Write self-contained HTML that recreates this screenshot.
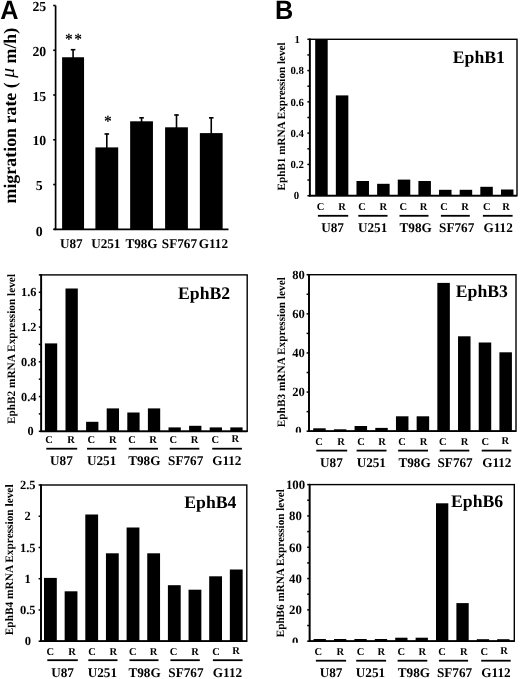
<!DOCTYPE html>
<html><head><meta charset="utf-8"><title>Figure</title>
<style>html,body{margin:0;padding:0;background:#fff;}svg{display:block;}text{text-rendering:geometricPrecision;}</style>
</head><body>
<svg width="520" height="679" viewBox="0 0 520 679">
<rect width="520" height="679" fill="#fff"/>
<line x1="55.60" y1="5.50" x2="55.60" y2="230.10" stroke="#000" stroke-width="1.7"/>
<line x1="53.80" y1="229.30" x2="228.50" y2="229.30" stroke="#000" stroke-width="1.7"/>
<line x1="53.20" y1="229.30" x2="55.60" y2="229.30" stroke="#000" stroke-width="1.6"/>
<text x="39.30" y="235.50" font-family="'Liberation Serif', 'Times New Roman', serif" font-weight="bold" font-size="13.8" text-anchor="middle">0</text>
<line x1="53.20" y1="184.54" x2="55.60" y2="184.54" stroke="#000" stroke-width="1.6"/>
<text x="39.30" y="190.04" font-family="'Liberation Serif', 'Times New Roman', serif" font-weight="bold" font-size="13.8" text-anchor="middle">5</text>
<line x1="53.20" y1="139.78" x2="55.60" y2="139.78" stroke="#000" stroke-width="1.6"/>
<text x="39.30" y="145.28" font-family="'Liberation Serif', 'Times New Roman', serif" font-weight="bold" font-size="13.8" text-anchor="middle">10</text>
<line x1="53.20" y1="95.02" x2="55.60" y2="95.02" stroke="#000" stroke-width="1.6"/>
<text x="39.30" y="100.52" font-family="'Liberation Serif', 'Times New Roman', serif" font-weight="bold" font-size="13.8" text-anchor="middle">15</text>
<line x1="53.20" y1="50.26" x2="55.60" y2="50.26" stroke="#000" stroke-width="1.6"/>
<text x="39.30" y="55.76" font-family="'Liberation Serif', 'Times New Roman', serif" font-weight="bold" font-size="13.8" text-anchor="middle">20</text>
<line x1="53.20" y1="5.50" x2="55.60" y2="5.50" stroke="#000" stroke-width="1.6"/>
<text x="39.30" y="11.00" font-family="'Liberation Serif', 'Times New Roman', serif" font-weight="bold" font-size="13.8" text-anchor="middle">25</text>
<rect x="62.10" y="57.25" width="21.95" height="172.05" fill="#000"/>
<line x1="73.08" y1="49.10" x2="73.08" y2="58.25" stroke="#000" stroke-width="1.6"/>
<line x1="70.78" y1="49.70" x2="75.38" y2="49.70" stroke="#000" stroke-width="1.6"/>
<text x="71.30" y="247.60" font-family="'Liberation Serif', 'Times New Roman', serif" font-weight="bold" font-size="13.2" text-anchor="middle">U87</text>
<rect x="95.40" y="147.40" width="22.80" height="81.90" fill="#000"/>
<line x1="106.80" y1="133.40" x2="106.80" y2="148.40" stroke="#000" stroke-width="1.6"/>
<line x1="104.50" y1="134.00" x2="109.10" y2="134.00" stroke="#000" stroke-width="1.6"/>
<text x="105.80" y="247.60" font-family="'Liberation Serif', 'Times New Roman', serif" font-weight="bold" font-size="13.2" text-anchor="middle">U251</text>
<rect x="130.15" y="121.30" width="22.80" height="108.00" fill="#000"/>
<line x1="141.55" y1="117.20" x2="141.55" y2="122.30" stroke="#000" stroke-width="1.6"/>
<line x1="139.25" y1="117.80" x2="143.85" y2="117.80" stroke="#000" stroke-width="1.6"/>
<text x="141.50" y="247.60" font-family="'Liberation Serif', 'Times New Roman', serif" font-weight="bold" font-size="13.2" text-anchor="middle">T98G</text>
<rect x="165.10" y="127.30" width="22.80" height="102.00" fill="#000"/>
<line x1="176.50" y1="114.40" x2="176.50" y2="128.30" stroke="#000" stroke-width="1.6"/>
<line x1="174.20" y1="115.00" x2="178.80" y2="115.00" stroke="#000" stroke-width="1.6"/>
<text x="179.40" y="247.60" font-family="'Liberation Serif', 'Times New Roman', serif" font-weight="bold" font-size="13.2" text-anchor="middle">SF767</text>
<rect x="199.85" y="133.10" width="22.80" height="96.20" fill="#000"/>
<line x1="211.25" y1="117.20" x2="211.25" y2="134.10" stroke="#000" stroke-width="1.6"/>
<line x1="208.95" y1="117.80" x2="213.55" y2="117.80" stroke="#000" stroke-width="1.6"/>
<text x="213.40" y="247.60" font-family="'Liberation Serif', 'Times New Roman', serif" font-weight="bold" font-size="13.2" text-anchor="middle">G112</text>
<text x="74.30" y="43.80" font-family="'Liberation Serif', 'Times New Roman', serif" font-weight="bold" font-size="15.5" text-anchor="middle" letter-spacing="1.5">**</text>
<text x="107.80" y="126.40" font-family="'Liberation Serif', 'Times New Roman', serif" font-weight="bold" font-size="15.5" text-anchor="middle">*</text>
<text transform="translate(16.3,203.5) rotate(-90)" font-family="'Liberation Serif', 'Times New Roman', serif" font-weight="bold" font-size="17.9" text-anchor="start">migration rate ( <tspan font-style="italic" font-weight="normal" font-size="19.5" dy="-2.2">μ</tspan><tspan dy="2.2"> m/h)</tspan></text>
<text x="0.30" y="18.90" font-family="'Liberation Sans', Arial, sans-serif" font-weight="bold" font-size="25.3" text-anchor="start" transform="translate(0,-0.95) scale(1,1.05)">A</text>
<text x="275.00" y="19.40" font-family="'Liberation Sans', Arial, sans-serif" font-weight="bold" font-size="25.3" text-anchor="start" transform="translate(0,-0.97) scale(1,1.05)">B</text>
<rect x="315.20" y="39.30" width="12.50" height="156.40" fill="#000"/>
<rect x="335.84" y="95.40" width="12.50" height="100.30" fill="#000"/>
<rect x="356.48" y="181.00" width="12.50" height="14.70" fill="#000"/>
<rect x="377.12" y="183.80" width="12.50" height="11.90" fill="#000"/>
<rect x="397.76" y="179.60" width="12.50" height="16.10" fill="#000"/>
<rect x="418.40" y="181.00" width="12.50" height="14.70" fill="#000"/>
<rect x="439.04" y="189.80" width="12.50" height="5.90" fill="#000"/>
<rect x="459.68" y="189.80" width="12.50" height="5.90" fill="#000"/>
<rect x="480.32" y="186.80" width="12.50" height="8.90" fill="#000"/>
<rect x="500.96" y="189.50" width="12.50" height="6.20" fill="#000"/>
<rect x="309.80" y="39.30" width="207.20" height="156.40" fill="none" stroke="#000" stroke-width="1.4"/>
<line x1="309.80" y1="38.60" x2="309.80" y2="196.40" stroke="#000" stroke-width="1.8"/>
<line x1="308.90" y1="195.70" x2="517.00" y2="195.70" stroke="#000" stroke-width="1.7"/>
<line x1="307.40" y1="195.70" x2="309.80" y2="195.70" stroke="#000" stroke-width="1.5"/>
<text x="296.40" y="199.37" font-family="'Liberation Serif', 'Times New Roman', serif" font-weight="bold" font-size="10.8" text-anchor="middle">0</text>
<line x1="307.40" y1="164.42" x2="309.80" y2="164.42" stroke="#000" stroke-width="1.5"/>
<text x="297.20" y="168.09" font-family="'Liberation Serif', 'Times New Roman', serif" font-weight="bold" font-size="10.8" text-anchor="middle">0.2</text>
<line x1="307.40" y1="133.14" x2="309.80" y2="133.14" stroke="#000" stroke-width="1.5"/>
<text x="297.20" y="136.81" font-family="'Liberation Serif', 'Times New Roman', serif" font-weight="bold" font-size="10.8" text-anchor="middle">0.4</text>
<line x1="307.40" y1="101.86" x2="309.80" y2="101.86" stroke="#000" stroke-width="1.5"/>
<text x="297.20" y="105.53" font-family="'Liberation Serif', 'Times New Roman', serif" font-weight="bold" font-size="10.8" text-anchor="middle">0.6</text>
<line x1="307.40" y1="70.58" x2="309.80" y2="70.58" stroke="#000" stroke-width="1.5"/>
<text x="297.20" y="74.25" font-family="'Liberation Serif', 'Times New Roman', serif" font-weight="bold" font-size="10.8" text-anchor="middle">0.8</text>
<line x1="307.40" y1="39.30" x2="309.80" y2="39.30" stroke="#000" stroke-width="1.5"/>
<text x="297.20" y="42.97" font-family="'Liberation Serif', 'Times New Roman', serif" font-weight="bold" font-size="10.8" text-anchor="middle">1</text>
<line x1="307.40" y1="180.06" x2="309.80" y2="180.06" stroke="#000" stroke-width="1.5"/>
<line x1="307.40" y1="148.78" x2="309.80" y2="148.78" stroke="#000" stroke-width="1.5"/>
<line x1="307.40" y1="117.50" x2="309.80" y2="117.50" stroke="#000" stroke-width="1.5"/>
<line x1="307.40" y1="86.22" x2="309.80" y2="86.22" stroke="#000" stroke-width="1.5"/>
<line x1="307.40" y1="54.94" x2="309.80" y2="54.94" stroke="#000" stroke-width="1.5"/>
<text x="320.60" y="210.40" font-family="'Liberation Serif', 'Times New Roman', serif" font-weight="bold" font-size="10.5" text-anchor="middle">C</text>
<text x="342.10" y="210.40" font-family="'Liberation Serif', 'Times New Roman', serif" font-weight="bold" font-size="10.5" text-anchor="middle">R</text>
<line x1="317.90" y1="215.80" x2="348.20" y2="215.80" stroke="#000" stroke-width="1.8"/>
<text x="332.50" y="232.20" font-family="'Liberation Serif', 'Times New Roman', serif" font-weight="bold" font-size="13.2" text-anchor="middle">U87</text>
<text x="362.00" y="210.40" font-family="'Liberation Serif', 'Times New Roman', serif" font-weight="bold" font-size="10.5" text-anchor="middle">C</text>
<text x="383.40" y="210.40" font-family="'Liberation Serif', 'Times New Roman', serif" font-weight="bold" font-size="10.5" text-anchor="middle">R</text>
<line x1="358.30" y1="215.80" x2="387.50" y2="215.80" stroke="#000" stroke-width="1.8"/>
<text x="372.60" y="232.20" font-family="'Liberation Serif', 'Times New Roman', serif" font-weight="bold" font-size="13.2" text-anchor="middle">U251</text>
<text x="403.30" y="210.40" font-family="'Liberation Serif', 'Times New Roman', serif" font-weight="bold" font-size="10.5" text-anchor="middle">C</text>
<text x="423.50" y="210.40" font-family="'Liberation Serif', 'Times New Roman', serif" font-weight="bold" font-size="10.5" text-anchor="middle">R</text>
<line x1="399.50" y1="215.80" x2="428.50" y2="215.80" stroke="#000" stroke-width="1.8"/>
<text x="415.70" y="232.20" font-family="'Liberation Serif', 'Times New Roman', serif" font-weight="bold" font-size="13.2" text-anchor="middle">T98G</text>
<text x="444.10" y="210.40" font-family="'Liberation Serif', 'Times New Roman', serif" font-weight="bold" font-size="10.5" text-anchor="middle">C</text>
<text x="465.00" y="210.40" font-family="'Liberation Serif', 'Times New Roman', serif" font-weight="bold" font-size="10.5" text-anchor="middle">R</text>
<line x1="440.90" y1="215.80" x2="469.80" y2="215.80" stroke="#000" stroke-width="1.8"/>
<text x="456.70" y="232.20" font-family="'Liberation Serif', 'Times New Roman', serif" font-weight="bold" font-size="13.2" text-anchor="middle">SF767</text>
<text x="486.70" y="210.40" font-family="'Liberation Serif', 'Times New Roman', serif" font-weight="bold" font-size="10.5" text-anchor="middle">C</text>
<text x="506.00" y="209.50" font-family="'Liberation Serif', 'Times New Roman', serif" font-weight="bold" font-size="10.5" text-anchor="middle">R</text>
<line x1="482.90" y1="215.80" x2="512.60" y2="215.80" stroke="#000" stroke-width="1.8"/>
<text x="498.10" y="232.20" font-family="'Liberation Serif', 'Times New Roman', serif" font-weight="bold" font-size="13.2" text-anchor="middle">G112</text>
<text x="452.80" y="62.90" font-family="'Liberation Serif', 'Times New Roman', serif" font-weight="bold" font-size="17.7" text-anchor="start">EphB1</text>
<text transform="translate(285.40,190.40) rotate(-90)" font-family="'Liberation Serif', 'Times New Roman', serif" font-weight="bold" font-size="11.15" text-anchor="start">EphB1 mRNA Expression level</text>
<rect x="44.90" y="343.40" width="12.30" height="87.90" fill="#000"/>
<rect x="65.50" y="288.50" width="12.30" height="142.80" fill="#000"/>
<rect x="86.10" y="421.80" width="12.30" height="9.50" fill="#000"/>
<rect x="106.70" y="408.40" width="12.30" height="22.90" fill="#000"/>
<rect x="127.30" y="412.50" width="12.30" height="18.80" fill="#000"/>
<rect x="147.90" y="408.40" width="12.30" height="22.90" fill="#000"/>
<rect x="168.50" y="427.40" width="12.30" height="3.90" fill="#000"/>
<rect x="189.10" y="425.80" width="12.30" height="5.50" fill="#000"/>
<rect x="209.70" y="427.40" width="12.30" height="3.90" fill="#000"/>
<rect x="230.30" y="427.40" width="12.30" height="3.90" fill="#000"/>
<rect x="41.20" y="274.90" width="206.00" height="156.40" fill="none" stroke="#000" stroke-width="1.4"/>
<line x1="41.20" y1="274.20" x2="41.20" y2="432.00" stroke="#000" stroke-width="1.8"/>
<line x1="40.30" y1="431.30" x2="247.20" y2="431.30" stroke="#000" stroke-width="1.7"/>
<line x1="38.80" y1="431.30" x2="41.20" y2="431.30" stroke="#000" stroke-width="1.5"/>
<text x="30.60" y="435.48" font-family="'Liberation Serif', 'Times New Roman', serif" font-weight="bold" font-size="12.3" text-anchor="middle">0</text>
<line x1="38.80" y1="396.54" x2="41.20" y2="396.54" stroke="#000" stroke-width="1.5"/>
<text x="28.70" y="400.73" font-family="'Liberation Serif', 'Times New Roman', serif" font-weight="bold" font-size="12.3" text-anchor="middle">0.4</text>
<line x1="38.80" y1="361.79" x2="41.20" y2="361.79" stroke="#000" stroke-width="1.5"/>
<text x="28.70" y="365.97" font-family="'Liberation Serif', 'Times New Roman', serif" font-weight="bold" font-size="12.3" text-anchor="middle">0.8</text>
<line x1="38.80" y1="327.03" x2="41.20" y2="327.03" stroke="#000" stroke-width="1.5"/>
<text x="28.70" y="331.22" font-family="'Liberation Serif', 'Times New Roman', serif" font-weight="bold" font-size="12.3" text-anchor="middle">1.2</text>
<line x1="38.80" y1="292.28" x2="41.20" y2="292.28" stroke="#000" stroke-width="1.5"/>
<text x="28.70" y="296.46" font-family="'Liberation Serif', 'Times New Roman', serif" font-weight="bold" font-size="12.3" text-anchor="middle">1.6</text>
<line x1="38.80" y1="413.92" x2="41.20" y2="413.92" stroke="#000" stroke-width="1.5"/>
<line x1="38.80" y1="379.17" x2="41.20" y2="379.17" stroke="#000" stroke-width="1.5"/>
<line x1="38.80" y1="344.41" x2="41.20" y2="344.41" stroke="#000" stroke-width="1.5"/>
<line x1="38.80" y1="309.66" x2="41.20" y2="309.66" stroke="#000" stroke-width="1.5"/>
<line x1="38.80" y1="274.90" x2="41.20" y2="274.90" stroke="#000" stroke-width="1.5"/>
<text x="49.10" y="443.30" font-family="'Liberation Serif', 'Times New Roman', serif" font-weight="bold" font-size="10.5" text-anchor="middle">C</text>
<text x="71.00" y="443.30" font-family="'Liberation Serif', 'Times New Roman', serif" font-weight="bold" font-size="10.5" text-anchor="middle">R</text>
<line x1="46.30" y1="448.70" x2="77.20" y2="448.70" stroke="#000" stroke-width="1.8"/>
<text x="61.40" y="465.30" font-family="'Liberation Serif', 'Times New Roman', serif" font-weight="bold" font-size="13.2" text-anchor="middle">U87</text>
<text x="91.40" y="443.30" font-family="'Liberation Serif', 'Times New Roman', serif" font-weight="bold" font-size="10.5" text-anchor="middle">C</text>
<text x="112.70" y="443.30" font-family="'Liberation Serif', 'Times New Roman', serif" font-weight="bold" font-size="10.5" text-anchor="middle">R</text>
<line x1="87.00" y1="448.70" x2="116.50" y2="448.70" stroke="#000" stroke-width="1.8"/>
<text x="101.60" y="465.30" font-family="'Liberation Serif', 'Times New Roman', serif" font-weight="bold" font-size="13.2" text-anchor="middle">U251</text>
<text x="132.10" y="443.30" font-family="'Liberation Serif', 'Times New Roman', serif" font-weight="bold" font-size="10.5" text-anchor="middle">C</text>
<text x="153.00" y="443.30" font-family="'Liberation Serif', 'Times New Roman', serif" font-weight="bold" font-size="10.5" text-anchor="middle">R</text>
<line x1="128.80" y1="448.70" x2="158.00" y2="448.70" stroke="#000" stroke-width="1.8"/>
<text x="144.30" y="465.30" font-family="'Liberation Serif', 'Times New Roman', serif" font-weight="bold" font-size="13.2" text-anchor="middle">T98G</text>
<text x="173.30" y="443.30" font-family="'Liberation Serif', 'Times New Roman', serif" font-weight="bold" font-size="10.5" text-anchor="middle">C</text>
<text x="194.50" y="443.30" font-family="'Liberation Serif', 'Times New Roman', serif" font-weight="bold" font-size="10.5" text-anchor="middle">R</text>
<line x1="169.70" y1="448.70" x2="199.30" y2="448.70" stroke="#000" stroke-width="1.8"/>
<text x="185.70" y="465.30" font-family="'Liberation Serif', 'Times New Roman', serif" font-weight="bold" font-size="13.2" text-anchor="middle">SF767</text>
<text x="215.40" y="443.30" font-family="'Liberation Serif', 'Times New Roman', serif" font-weight="bold" font-size="10.5" text-anchor="middle">C</text>
<text x="235.40" y="442.40" font-family="'Liberation Serif', 'Times New Roman', serif" font-weight="bold" font-size="10.5" text-anchor="middle">R</text>
<line x1="212.20" y1="448.70" x2="241.90" y2="448.70" stroke="#000" stroke-width="1.8"/>
<text x="226.80" y="465.30" font-family="'Liberation Serif', 'Times New Roman', serif" font-weight="bold" font-size="13.2" text-anchor="middle">G112</text>
<text x="178.00" y="298.50" font-family="'Liberation Serif', 'Times New Roman', serif" font-weight="bold" font-size="17.7" text-anchor="start">EphB2</text>
<text transform="translate(15.40,424.10) rotate(-90)" font-family="'Liberation Serif', 'Times New Roman', serif" font-weight="bold" font-size="11.3" text-anchor="start">EphB2 mRNA Expression level</text>
<rect x="313.20" y="428.30" width="12.50" height="2.90" fill="#000"/>
<rect x="333.89" y="429.30" width="12.50" height="1.90" fill="#000"/>
<rect x="354.58" y="426.00" width="12.50" height="5.20" fill="#000"/>
<rect x="375.27" y="427.90" width="12.50" height="3.30" fill="#000"/>
<rect x="395.96" y="416.30" width="12.50" height="14.90" fill="#000"/>
<rect x="416.65" y="416.30" width="12.50" height="14.90" fill="#000"/>
<rect x="437.34" y="282.90" width="12.50" height="148.30" fill="#000"/>
<rect x="458.03" y="336.30" width="12.50" height="94.90" fill="#000"/>
<rect x="478.72" y="342.50" width="12.50" height="88.70" fill="#000"/>
<rect x="499.41" y="352.30" width="12.50" height="78.90" fill="#000"/>
<rect x="309.00" y="274.70" width="207.00" height="156.50" fill="none" stroke="#000" stroke-width="1.4"/>
<line x1="309.00" y1="274.00" x2="309.00" y2="431.90" stroke="#000" stroke-width="1.8"/>
<line x1="308.10" y1="431.20" x2="516.00" y2="431.20" stroke="#000" stroke-width="1.7"/>
<line x1="306.60" y1="431.20" x2="309.00" y2="431.20" stroke="#000" stroke-width="1.5"/>
<clipPath id="zc1"><rect x="288.4" y="416.2" width="20" height="16.4"/></clipPath>
<text x="298.40" y="435.48" font-family="'Liberation Serif', 'Times New Roman', serif" font-weight="bold" font-size="12.6" text-anchor="middle" clip-path="url(#zc1)">0</text>
<line x1="306.60" y1="392.07" x2="309.00" y2="392.07" stroke="#000" stroke-width="1.5"/>
<text x="298.60" y="396.36" font-family="'Liberation Serif', 'Times New Roman', serif" font-weight="bold" font-size="12.6" text-anchor="middle">20</text>
<line x1="306.60" y1="352.95" x2="309.00" y2="352.95" stroke="#000" stroke-width="1.5"/>
<text x="298.60" y="357.23" font-family="'Liberation Serif', 'Times New Roman', serif" font-weight="bold" font-size="12.6" text-anchor="middle">40</text>
<line x1="306.60" y1="313.82" x2="309.00" y2="313.82" stroke="#000" stroke-width="1.5"/>
<text x="298.60" y="318.11" font-family="'Liberation Serif', 'Times New Roman', serif" font-weight="bold" font-size="12.6" text-anchor="middle">60</text>
<line x1="306.60" y1="274.70" x2="309.00" y2="274.70" stroke="#000" stroke-width="1.5"/>
<text x="298.60" y="278.98" font-family="'Liberation Serif', 'Times New Roman', serif" font-weight="bold" font-size="12.6" text-anchor="middle">80</text>
<line x1="306.60" y1="411.64" x2="309.00" y2="411.64" stroke="#000" stroke-width="1.5"/>
<line x1="306.60" y1="372.51" x2="309.00" y2="372.51" stroke="#000" stroke-width="1.5"/>
<line x1="306.60" y1="333.39" x2="309.00" y2="333.39" stroke="#000" stroke-width="1.5"/>
<line x1="306.60" y1="294.26" x2="309.00" y2="294.26" stroke="#000" stroke-width="1.5"/>
<text x="319.10" y="445.10" font-family="'Liberation Serif', 'Times New Roman', serif" font-weight="bold" font-size="10.5" text-anchor="middle">C</text>
<text x="341.00" y="445.10" font-family="'Liberation Serif', 'Times New Roman', serif" font-weight="bold" font-size="10.5" text-anchor="middle">R</text>
<line x1="316.30" y1="450.60" x2="347.20" y2="450.60" stroke="#000" stroke-width="1.8"/>
<text x="331.40" y="467.30" font-family="'Liberation Serif', 'Times New Roman', serif" font-weight="bold" font-size="13.2" text-anchor="middle">U87</text>
<text x="361.00" y="445.10" font-family="'Liberation Serif', 'Times New Roman', serif" font-weight="bold" font-size="10.5" text-anchor="middle">C</text>
<text x="382.00" y="445.10" font-family="'Liberation Serif', 'Times New Roman', serif" font-weight="bold" font-size="10.5" text-anchor="middle">R</text>
<line x1="356.60" y1="450.60" x2="386.50" y2="450.60" stroke="#000" stroke-width="1.8"/>
<text x="371.30" y="467.30" font-family="'Liberation Serif', 'Times New Roman', serif" font-weight="bold" font-size="13.2" text-anchor="middle">U251</text>
<text x="402.00" y="445.10" font-family="'Liberation Serif', 'Times New Roman', serif" font-weight="bold" font-size="10.5" text-anchor="middle">C</text>
<text x="423.50" y="445.10" font-family="'Liberation Serif', 'Times New Roman', serif" font-weight="bold" font-size="10.5" text-anchor="middle">R</text>
<line x1="398.10" y1="450.60" x2="428.00" y2="450.60" stroke="#000" stroke-width="1.8"/>
<text x="414.60" y="467.30" font-family="'Liberation Serif', 'Times New Roman', serif" font-weight="bold" font-size="13.2" text-anchor="middle">T98G</text>
<text x="442.90" y="445.10" font-family="'Liberation Serif', 'Times New Roman', serif" font-weight="bold" font-size="10.5" text-anchor="middle">C</text>
<text x="464.50" y="445.10" font-family="'Liberation Serif', 'Times New Roman', serif" font-weight="bold" font-size="10.5" text-anchor="middle">R</text>
<line x1="439.70" y1="450.60" x2="469.30" y2="450.60" stroke="#000" stroke-width="1.8"/>
<text x="455.10" y="467.30" font-family="'Liberation Serif', 'Times New Roman', serif" font-weight="bold" font-size="13.2" text-anchor="middle">SF767</text>
<text x="485.40" y="445.10" font-family="'Liberation Serif', 'Times New Roman', serif" font-weight="bold" font-size="10.5" text-anchor="middle">C</text>
<text x="505.30" y="444.20" font-family="'Liberation Serif', 'Times New Roman', serif" font-weight="bold" font-size="10.5" text-anchor="middle">R</text>
<line x1="481.70" y1="450.60" x2="511.40" y2="450.60" stroke="#000" stroke-width="1.8"/>
<text x="496.80" y="467.30" font-family="'Liberation Serif', 'Times New Roman', serif" font-weight="bold" font-size="13.2" text-anchor="middle">G112</text>
<text x="455.80" y="296.60" font-family="'Liberation Serif', 'Times New Roman', serif" font-weight="bold" font-size="17.7" text-anchor="start">EphB3</text>
<text transform="translate(285.40,427.20) rotate(-90)" font-family="'Liberation Serif', 'Times New Roman', serif" font-weight="bold" font-size="11.3" text-anchor="start">EphB3 mRNA Expression level</text>
<rect x="44.00" y="577.90" width="12.80" height="63.30" fill="#000"/>
<rect x="64.65" y="591.30" width="12.80" height="49.90" fill="#000"/>
<rect x="85.30" y="514.50" width="12.80" height="126.70" fill="#000"/>
<rect x="105.95" y="553.30" width="12.80" height="87.90" fill="#000"/>
<rect x="126.60" y="527.50" width="12.80" height="113.70" fill="#000"/>
<rect x="147.25" y="553.30" width="12.80" height="87.90" fill="#000"/>
<rect x="167.90" y="585.20" width="12.80" height="56.00" fill="#000"/>
<rect x="188.55" y="589.70" width="12.80" height="51.50" fill="#000"/>
<rect x="209.20" y="576.30" width="12.80" height="64.90" fill="#000"/>
<rect x="229.85" y="569.50" width="12.80" height="71.70" fill="#000"/>
<rect x="41.00" y="485.00" width="205.80" height="156.20" fill="none" stroke="#000" stroke-width="1.4"/>
<line x1="41.00" y1="484.30" x2="41.00" y2="641.90" stroke="#000" stroke-width="1.8"/>
<line x1="40.10" y1="641.20" x2="246.80" y2="641.20" stroke="#000" stroke-width="1.7"/>
<line x1="38.60" y1="641.20" x2="41.00" y2="641.20" stroke="#000" stroke-width="1.5"/>
<text x="27.90" y="645.45" font-family="'Liberation Serif', 'Times New Roman', serif" font-weight="bold" font-size="12.5" text-anchor="middle">0</text>
<line x1="38.60" y1="609.96" x2="41.00" y2="609.96" stroke="#000" stroke-width="1.5"/>
<text x="27.70" y="614.21" font-family="'Liberation Serif', 'Times New Roman', serif" font-weight="bold" font-size="12.5" text-anchor="middle">0.5</text>
<line x1="38.60" y1="578.72" x2="41.00" y2="578.72" stroke="#000" stroke-width="1.5"/>
<text x="27.70" y="582.97" font-family="'Liberation Serif', 'Times New Roman', serif" font-weight="bold" font-size="12.5" text-anchor="middle">1</text>
<line x1="38.60" y1="547.48" x2="41.00" y2="547.48" stroke="#000" stroke-width="1.5"/>
<text x="27.70" y="551.73" font-family="'Liberation Serif', 'Times New Roman', serif" font-weight="bold" font-size="12.5" text-anchor="middle">1.5</text>
<line x1="38.60" y1="516.24" x2="41.00" y2="516.24" stroke="#000" stroke-width="1.5"/>
<text x="27.70" y="520.49" font-family="'Liberation Serif', 'Times New Roman', serif" font-weight="bold" font-size="12.5" text-anchor="middle">2</text>
<line x1="38.60" y1="485.00" x2="41.00" y2="485.00" stroke="#000" stroke-width="1.5"/>
<text x="27.70" y="489.25" font-family="'Liberation Serif', 'Times New Roman', serif" font-weight="bold" font-size="12.5" text-anchor="middle">2.5</text>
<text x="50.20" y="654.70" font-family="'Liberation Serif', 'Times New Roman', serif" font-weight="bold" font-size="10.5" text-anchor="middle">C</text>
<text x="72.10" y="654.70" font-family="'Liberation Serif', 'Times New Roman', serif" font-weight="bold" font-size="10.5" text-anchor="middle">R</text>
<line x1="47.30" y1="660.20" x2="77.80" y2="660.20" stroke="#000" stroke-width="1.8"/>
<text x="62.50" y="677.20" font-family="'Liberation Serif', 'Times New Roman', serif" font-weight="bold" font-size="13.2" text-anchor="middle">U87</text>
<text x="92.00" y="654.70" font-family="'Liberation Serif', 'Times New Roman', serif" font-weight="bold" font-size="10.5" text-anchor="middle">C</text>
<text x="113.40" y="654.70" font-family="'Liberation Serif', 'Times New Roman', serif" font-weight="bold" font-size="10.5" text-anchor="middle">R</text>
<line x1="88.30" y1="660.20" x2="117.50" y2="660.20" stroke="#000" stroke-width="1.8"/>
<text x="102.40" y="677.20" font-family="'Liberation Serif', 'Times New Roman', serif" font-weight="bold" font-size="13.2" text-anchor="middle">U251</text>
<text x="132.90" y="654.70" font-family="'Liberation Serif', 'Times New Roman', serif" font-weight="bold" font-size="10.5" text-anchor="middle">C</text>
<text x="153.50" y="654.70" font-family="'Liberation Serif', 'Times New Roman', serif" font-weight="bold" font-size="10.5" text-anchor="middle">R</text>
<line x1="129.50" y1="660.20" x2="158.50" y2="660.20" stroke="#000" stroke-width="1.8"/>
<text x="144.60" y="677.20" font-family="'Liberation Serif', 'Times New Roman', serif" font-weight="bold" font-size="13.2" text-anchor="middle">T98G</text>
<text x="173.50" y="654.70" font-family="'Liberation Serif', 'Times New Roman', serif" font-weight="bold" font-size="10.5" text-anchor="middle">C</text>
<text x="195.00" y="654.70" font-family="'Liberation Serif', 'Times New Roman', serif" font-weight="bold" font-size="10.5" text-anchor="middle">R</text>
<line x1="170.40" y1="660.20" x2="199.80" y2="660.20" stroke="#000" stroke-width="1.8"/>
<text x="185.90" y="677.20" font-family="'Liberation Serif', 'Times New Roman', serif" font-weight="bold" font-size="13.2" text-anchor="middle">SF767</text>
<text x="216.10" y="654.70" font-family="'Liberation Serif', 'Times New Roman', serif" font-weight="bold" font-size="10.5" text-anchor="middle">C</text>
<text x="236.00" y="653.80" font-family="'Liberation Serif', 'Times New Roman', serif" font-weight="bold" font-size="10.5" text-anchor="middle">R</text>
<line x1="212.90" y1="660.20" x2="242.60" y2="660.20" stroke="#000" stroke-width="1.8"/>
<text x="227.50" y="677.20" font-family="'Liberation Serif', 'Times New Roman', serif" font-weight="bold" font-size="13.2" text-anchor="middle">G112</text>
<text x="184.30" y="507.60" font-family="'Liberation Serif', 'Times New Roman', serif" font-weight="bold" font-size="17.7" text-anchor="start">EphB4</text>
<text transform="translate(13.40,635.20) rotate(-90)" font-family="'Liberation Serif', 'Times New Roman', serif" font-weight="bold" font-size="11.35" text-anchor="start">EphB4 mRNA Expression level</text>
<rect x="313.60" y="639.00" width="12.30" height="2.20" fill="#000"/>
<rect x="334.00" y="639.00" width="12.30" height="2.20" fill="#000"/>
<rect x="354.40" y="639.00" width="12.30" height="2.20" fill="#000"/>
<rect x="374.80" y="639.00" width="12.30" height="2.20" fill="#000"/>
<rect x="395.20" y="637.70" width="12.30" height="3.50" fill="#000"/>
<rect x="415.60" y="637.70" width="12.30" height="3.50" fill="#000"/>
<rect x="436.00" y="503.30" width="12.30" height="137.90" fill="#000"/>
<rect x="456.40" y="603.10" width="12.30" height="38.10" fill="#000"/>
<rect x="476.80" y="639.20" width="12.30" height="2.00" fill="#000"/>
<rect x="497.20" y="639.20" width="12.30" height="2.00" fill="#000"/>
<rect x="309.60" y="484.60" width="204.70" height="156.60" fill="none" stroke="#000" stroke-width="1.4"/>
<line x1="309.60" y1="483.90" x2="309.60" y2="641.90" stroke="#000" stroke-width="1.8"/>
<line x1="308.70" y1="641.20" x2="514.30" y2="641.20" stroke="#000" stroke-width="1.7"/>
<line x1="307.20" y1="641.20" x2="309.60" y2="641.20" stroke="#000" stroke-width="1.5"/>
<clipPath id="zc2"><rect x="285.3" y="626.2" width="20" height="16.6"/></clipPath>
<text x="295.30" y="645.55" font-family="'Liberation Serif', 'Times New Roman', serif" font-weight="bold" font-size="12.8" text-anchor="middle" clip-path="url(#zc2)">0</text>
<line x1="307.20" y1="609.88" x2="309.60" y2="609.88" stroke="#000" stroke-width="1.5"/>
<text x="295.50" y="614.23" font-family="'Liberation Serif', 'Times New Roman', serif" font-weight="bold" font-size="12.8" text-anchor="middle">20</text>
<line x1="307.20" y1="578.56" x2="309.60" y2="578.56" stroke="#000" stroke-width="1.5"/>
<text x="295.50" y="582.91" font-family="'Liberation Serif', 'Times New Roman', serif" font-weight="bold" font-size="12.8" text-anchor="middle">40</text>
<line x1="307.20" y1="547.24" x2="309.60" y2="547.24" stroke="#000" stroke-width="1.5"/>
<text x="295.50" y="551.59" font-family="'Liberation Serif', 'Times New Roman', serif" font-weight="bold" font-size="12.8" text-anchor="middle">60</text>
<line x1="307.20" y1="515.92" x2="309.60" y2="515.92" stroke="#000" stroke-width="1.5"/>
<text x="295.50" y="520.27" font-family="'Liberation Serif', 'Times New Roman', serif" font-weight="bold" font-size="12.8" text-anchor="middle">80</text>
<line x1="307.20" y1="484.60" x2="309.60" y2="484.60" stroke="#000" stroke-width="1.5"/>
<text x="295.50" y="488.95" font-family="'Liberation Serif', 'Times New Roman', serif" font-weight="bold" font-size="12.8" text-anchor="middle">100</text>
<line x1="307.20" y1="625.54" x2="309.60" y2="625.54" stroke="#000" stroke-width="1.5"/>
<line x1="307.20" y1="594.22" x2="309.60" y2="594.22" stroke="#000" stroke-width="1.5"/>
<line x1="307.20" y1="562.90" x2="309.60" y2="562.90" stroke="#000" stroke-width="1.5"/>
<line x1="307.20" y1="531.58" x2="309.60" y2="531.58" stroke="#000" stroke-width="1.5"/>
<line x1="307.20" y1="500.26" x2="309.60" y2="500.26" stroke="#000" stroke-width="1.5"/>
<text x="318.40" y="655.00" font-family="'Liberation Serif', 'Times New Roman', serif" font-weight="bold" font-size="10.5" text-anchor="middle">C</text>
<text x="340.30" y="655.00" font-family="'Liberation Serif', 'Times New Roman', serif" font-weight="bold" font-size="10.5" text-anchor="middle">R</text>
<line x1="315.85" y1="660.70" x2="346.10" y2="660.70" stroke="#000" stroke-width="1.8"/>
<text x="331.00" y="677.30" font-family="'Liberation Serif', 'Times New Roman', serif" font-weight="bold" font-size="13.2" text-anchor="middle">U87</text>
<text x="360.50" y="655.00" font-family="'Liberation Serif', 'Times New Roman', serif" font-weight="bold" font-size="10.5" text-anchor="middle">C</text>
<text x="381.40" y="655.00" font-family="'Liberation Serif', 'Times New Roman', serif" font-weight="bold" font-size="10.5" text-anchor="middle">R</text>
<line x1="356.20" y1="660.70" x2="386.10" y2="660.70" stroke="#000" stroke-width="1.8"/>
<text x="370.50" y="677.30" font-family="'Liberation Serif', 'Times New Roman', serif" font-weight="bold" font-size="13.2" text-anchor="middle">U251</text>
<text x="401.20" y="655.00" font-family="'Liberation Serif', 'Times New Roman', serif" font-weight="bold" font-size="10.5" text-anchor="middle">C</text>
<text x="422.40" y="655.00" font-family="'Liberation Serif', 'Times New Roman', serif" font-weight="bold" font-size="10.5" text-anchor="middle">R</text>
<line x1="397.60" y1="660.70" x2="427.30" y2="660.70" stroke="#000" stroke-width="1.8"/>
<text x="413.90" y="677.30" font-family="'Liberation Serif', 'Times New Roman', serif" font-weight="bold" font-size="13.2" text-anchor="middle">T98G</text>
<text x="442.10" y="655.00" font-family="'Liberation Serif', 'Times New Roman', serif" font-weight="bold" font-size="10.5" text-anchor="middle">C</text>
<text x="463.80" y="655.00" font-family="'Liberation Serif', 'Times New Roman', serif" font-weight="bold" font-size="10.5" text-anchor="middle">R</text>
<line x1="438.95" y1="660.70" x2="468.10" y2="660.70" stroke="#000" stroke-width="1.8"/>
<text x="454.50" y="677.30" font-family="'Liberation Serif', 'Times New Roman', serif" font-weight="bold" font-size="13.2" text-anchor="middle">SF767</text>
<text x="484.40" y="655.00" font-family="'Liberation Serif', 'Times New Roman', serif" font-weight="bold" font-size="10.5" text-anchor="middle">C</text>
<text x="504.10" y="654.10" font-family="'Liberation Serif', 'Times New Roman', serif" font-weight="bold" font-size="10.5" text-anchor="middle">R</text>
<line x1="481.20" y1="660.70" x2="510.70" y2="660.70" stroke="#000" stroke-width="1.8"/>
<text x="496.00" y="677.30" font-family="'Liberation Serif', 'Times New Roman', serif" font-weight="bold" font-size="13.2" text-anchor="middle">G112</text>
<text x="451.00" y="506.70" font-family="'Liberation Serif', 'Times New Roman', serif" font-weight="bold" font-size="17.7" text-anchor="start">EphB6</text>
<text transform="translate(284.20,637.20) rotate(-90)" font-family="'Liberation Serif', 'Times New Roman', serif" font-weight="bold" font-size="11.15" text-anchor="start">EphB6 mRNA Expression level</text>
</svg>
</body></html>
